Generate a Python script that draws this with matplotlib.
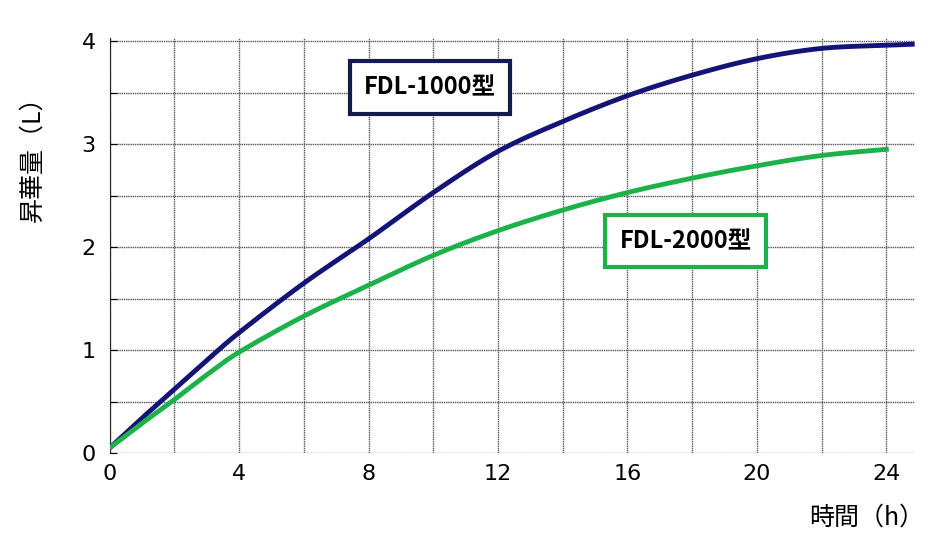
import numpy as np
import matplotlib.pyplot as plt

plt.rcParams['font.family'] = ['Noto Sans CJK JP', 'DejaVu Sans']

# values
hours = [0, 1, 2, 3, 4, 6, 8, 10, 12, 14, 16, 18, 20, 22, 24, 24.8]
fdl1000 = [0.05, 0.34, 0.62, 0.90, 1.17, 1.65, 2.08, 2.53, 2.93, 3.22, 3.47, 3.67, 3.83, 3.93, 3.96, 3.97]
hours2 = [0, 1, 2, 3, 4, 6, 8, 10, 12, 14, 16, 18, 20, 22, 24]
fdl2000 = [0.05, 0.29, 0.52, 0.76, 0.98, 1.33, 1.63, 1.92, 2.16, 2.36, 2.53, 2.67, 2.79, 2.89, 2.95]


def smooth(x, y, n=20):
    # catmull-rom through the read points, only to draw a smooth line
    x = np.asarray(x, float); y = np.asarray(y, float)
    px = np.concatenate([[2 * x[0] - x[1]], x, [2 * x[-1] - x[-2]]])
    py = np.concatenate([[2 * y[0] - y[1]], y, [2 * y[-1] - y[-2]]])
    ox, oy = [], []
    t = np.linspace(0, 1, n, endpoint=False)
    for i in range(1, len(px) - 2):
        for p, o in ((px, ox), (py, oy)):
            p0, p1, p2, p3 = p[i - 1:i + 3]
            o.extend(0.5 * (2 * p1 + (-p0 + p2) * t + (2 * p0 - 5 * p1 + 4 * p2 - p3) * t ** 2
                            + (-p0 + 3 * p1 - 3 * p2 + p3) * t ** 3))
    ox.append(x[-1]); oy.append(y[-1])
    return ox, oy


fig = plt.figure(figsize=(9.37, 5.44), dpi=100)
ax = fig.add_axes([0.117, 0.167, 0.86, 0.763])

ax.plot(*smooth(hours, fdl1000), color='#141477', lw=3.5, zorder=3)
ax.plot(*smooth(hours2, fdl2000), color='#1db14a', lw=3.5, zorder=3)

ax.set_xlim(0, 24.9)
ax.set_ylim(0, 4.03)
ax.set_xticks(np.arange(0, 25, 2))
ax.set_xticklabels(['0', '', '4', '', '8', '', '12', '', '16', '', '20', '', '24'], family='DejaVu Sans')
ax.set_yticks(np.arange(0, 4.01, 0.5))
ax.set_yticklabels(['0', '', '1', '', '2', '', '3', '', '4'], family='DejaVu Sans')
ax.grid(True, color='#555555', ls=(0, (1, 0.6)), lw=1.0)
for s in ['top', 'right', 'bottom']:
    ax.spines[s].set_visible(False)
ax.spines['left'].set_color('#222222')
ax.tick_params(axis='x', length=0, labelsize=16, pad=8)
ax.tick_params(axis='y', length=5, labelsize=16, direction='in', pad=10)

fig.text(0.925, 0.025, '時間（h）', fontsize=18, ha='center', va='bottom')
fig.text(0.035, 0.72, '昇華量（L）', fontsize=18, rotation=90, ha='center', va='center')

ax.text(9.9, 3.55, 'FDL-1000型', fontsize=17, fontweight='bold', ha='center', va='center',
        bbox=dict(boxstyle='square,pad=0.6', fc='white', ec='#141c4d', lw=3), zorder=4)
ax.text(17.8, 2.06, 'FDL-2000型', fontsize=17, fontweight='bold', ha='center', va='center',
        bbox=dict(boxstyle='square,pad=0.6', fc='white', ec='#1db14a', lw=3), zorder=4)

fig.savefig('out.png')
